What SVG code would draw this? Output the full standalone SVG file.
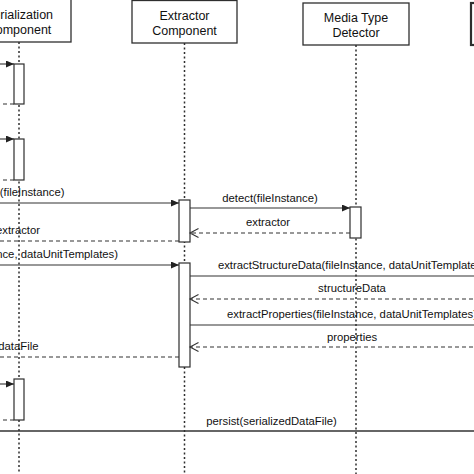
<svg xmlns="http://www.w3.org/2000/svg" width="474" height="474" viewBox="0 0 474 474">
<defs>
<style>
.box{fill:#fff;stroke:#2e2e2e;stroke-width:1.3}
.act{fill:#fff;stroke:#2e2e2e;stroke-width:1.2}
.life{stroke:#2e2e2e;stroke-width:1.5;stroke-dasharray:2 2.5;fill:none}
.msg{stroke:#333;stroke-width:1.1;fill:none}
.ret{stroke:#333;stroke-width:1.1;fill:none;stroke-dasharray:4 3}
.pt{font-family:"Liberation Sans",Arial,sans-serif;font-size:12.5px;fill:#111;text-anchor:middle}
.lb{font-family:"Liberation Sans",Arial,sans-serif;font-size:11.3px;fill:#111}
.c{text-anchor:middle}
.e{text-anchor:end}
</style>
<marker id="block" markerUnits="userSpaceOnUse" markerWidth="10" markerHeight="10" refX="8" refY="3.5" orient="auto">
<path d="M0,0 L8,3.5 L0,7 z" fill="#222"/>
</marker>
<marker id="open" markerUnits="userSpaceOnUse" markerWidth="12" markerHeight="12" refX="9" refY="5" orient="auto">
<path d="M0.5,0.5 L9,5 L0.5,9.5" fill="none" stroke="#333" stroke-width="1.1"/>
</marker>
</defs>

<g id="lifelines">
<line class="life" x1="19" y1="42" x2="19" y2="474"/>
<line class="life" x1="184.5" y1="43" x2="184.5" y2="474"/>
<line class="life" x1="356" y1="45" x2="356" y2="474"/>
</g>

<g id="serialization-component">
<rect class="box" x="-34" y="-1" width="105" height="43"/>
<text class="pt" x="19" y="18.5">Serialization</text>
<text class="pt" x="19" y="33.5">Component</text>
</g>
<g id="extractor-component">
<rect class="box" x="132" y="0.5" width="105" height="42.5"/>
<text class="pt" x="184.5" y="19.5">Extractor</text>
<text class="pt" x="184.5" y="34.5">Component</text>
</g>
<g id="media-type-detector">
<rect class="box" x="303" y="3" width="106" height="42"/>
<text class="pt" x="356" y="22">Media Type</text>
<text class="pt" x="356" y="37">Detector</text>
</g>
<g id="right-component">
<rect class="box" x="471" y="3" width="105" height="42" style="stroke-width:2.2"/>
</g>

<g id="activations">
<rect class="act" x="14" y="64" width="10" height="40"/>
<rect class="act" x="14" y="139" width="10" height="41"/>
<rect class="act" x="14" y="379" width="10" height="41"/>
<rect class="act" x="179" y="200" width="11" height="42"/>
<rect class="act" x="179" y="263" width="11" height="104"/>
<rect class="act" x="350" y="207" width="11" height="31"/>
</g>

<g id="connectors">
<line class="msg" x1="-10" y1="64" x2="14" y2="64" marker-end="url(#block)"/>
<line class="ret" x1="14" y1="104" x2="-5" y2="104"/>
<line class="msg" x1="-10" y1="139" x2="14" y2="139" marker-end="url(#block)"/>
<line class="ret" x1="14" y1="180" x2="-5" y2="180"/>

<line class="msg" x1="-10" y1="203" x2="179" y2="203" marker-end="url(#block)"/>
<line class="msg" x1="190" y1="208" x2="350" y2="208" marker-end="url(#block)"/>
<line class="ret" x1="350" y1="233" x2="190" y2="233" marker-end="url(#open)"/>
<line class="ret" x1="179" y1="241" x2="-5" y2="241"/>

<line class="msg" x1="-10" y1="265" x2="179" y2="265" marker-end="url(#block)"/>
<line class="msg" x1="190" y1="276" x2="480" y2="276"/>
<line class="ret" x1="480" y1="299" x2="190" y2="299" marker-end="url(#open)"/>
<line class="msg" x1="190" y1="325" x2="480" y2="325"/>
<line class="ret" x1="480" y1="347" x2="190" y2="347" marker-end="url(#open)"/>
<line class="ret" x1="179" y1="357" x2="-5" y2="357"/>

<line class="msg" x1="-10" y1="384" x2="14" y2="384" marker-end="url(#block)"/>
<line class="ret" x1="14" y1="420" x2="-5" y2="420"/>

<line class="msg" x1="-10" y1="431" x2="480" y2="431" style="stroke-width:1.4"/>
</g>

<g id="labels">
<text class="lb e" x="64.5" y="196">(fileInstance)</text>
<text class="lb c" x="270" y="201.5">detect(fileInstance)</text>
<text class="lb c" x="268" y="226">extractor</text>
<text class="lb e" x="40" y="233.5">extractor</text>
<text class="lb e" x="118" y="258">fileInstance, dataUnitTemplates)</text>
<text class="lb c" x="352" y="269">extractStructureData(fileInstance, dataUnitTemplates)</text>
<text class="lb c" x="352" y="292">structureData</text>
<text class="lb c" x="352" y="318">extractProperties(fileInstance, dataUnitTemplates)</text>
<text class="lb c" x="352" y="340.5">properties</text>
<text class="lb e" x="38.5" y="350">dataFile</text>
<text class="lb c" x="271.5" y="424.5">persist(serializedDataFile)</text>
</g>
</svg>
